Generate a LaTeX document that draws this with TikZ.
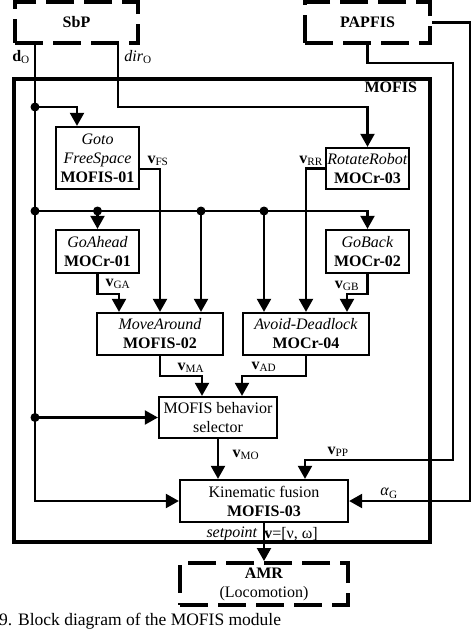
\documentclass[tikz,border=0pt]{standalone}
\usepackage{fontspec}
\setmainfont{Liberation Serif}
\usetikzlibrary{positioning,calc,arrows.meta}

\newcommand{\fs}{\fontsize{16}{19}\selectfont}

\begin{document}
\begin{tikzpicture}[x=1pt,y=1pt,yscale=-1,
  blk/.style={draw, line width=2.3, align=center, inner sep=0pt, font=\fs},
  dblk/.style={draw, line width=4, dash pattern=on 28pt off 10pt, align=center, inner sep=0pt, font=\fs},
  arr/.style={line width=2.2, -{Triangle[length=13pt,width=14pt]}},
  lbl/.style={inner sep=0pt, font=\fs}]

\useasboundingbox (0,0) rectangle (474,630);

% External modules
\node (sbp) [dblk, minimum width=123, minimum height=41] at (76.5,22.5) {\textbf{SbP}};
\node (papfis) [dblk, minimum width=125, minimum height=41] at (367.5,22.5) {\textbf{PAPFIS}};
\node (amr) [dblk, minimum width=168, minimum height=42] at (264,584) {\textbf{AMR}\\(Locomotion)};

% MOFIS frame
\node (mofis) [draw, line width=4.3, inner sep=0pt, minimum width=416, minimum height=463] at (222,310.5) {};
\node (mofislbl) [lbl, anchor=north east] at ($(mofis.north east)+(-15,5)$) {\textbf{MOFIS}};

% Behavior blocks
\node (gfs) [blk, minimum width=83, minimum height=62] at (97.5,158) {\textit{Goto}\\\textit{FreeSpace}\\\textbf{MOFIS-01}};
\node (rr) [blk, minimum width=83, minimum height=41] at (367.5,168.5) {\textit{RotateRobot}\\\textbf{MOCr-03}};
\node (ga) [blk, minimum width=83, minimum height=43] at (97.5,251.5) {\textit{GoAhead}\\\textbf{MOCr-01}};
\node (gb) [blk, minimum width=83, minimum height=43] at (367.5,251.5) {\textit{GoBack}\\\textbf{MOCr-02}};
\node (ma) [blk, minimum width=126, minimum height=42] at (160,334) {\textit{MoveAround}\\\textbf{MOFIS-02}};
\node (ad) [blk, minimum width=126, minimum height=42] at (306,334) {\textit{Avoid-Deadlock}\\\textbf{MOCr-04}};
\node (sel) [blk, minimum width=118, minimum height=41] at (218,417.5) {MOFIS behavior\\selector};
\node (kf) [blk, minimum width=168, minimum height=42] at (264,501) {Kinematic fusion\\\textbf{MOFIS-03}};

% Junctions
\coordinate (j1) at (35,107);
\coordinate (dir) at (118,107);
\coordinate (j2) at (35,211);
\coordinate (b1) at (97.5,211);
\coordinate (b2) at (201,211);
\coordinate (b3) at (264,211);
\coordinate (j3) at (j1 |- sel.west);
\coordinate (pp1) at (453,63);
\coordinate (pp2) at (453,460);
\coordinate (ag) at (470,300);

% Inputs from SbP
\draw [arr] (sbp.south -| j1) |- (kf.west);
\draw [arr] (sbp.south -| dir) -- (dir) -| (rr.north);
\draw [arr] (j1) -| ($(gfs.north)+(-20.5,0)$);
\draw [arr] (j2) -| (gb.north);
\draw [arr] (b1) -- (ga.north);
\draw [arr] (b2) -- (b2 |- ma.north);
\draw [arr] (b3) -- (b3 |- ad.north);
\draw [arr] (j3) -- (sel.west);
\foreach \p in {j1,j2,b1,b2,b3,j3} {
  \fill (\p) circle (4.5);
}

% Block outputs
\draw [arr] ($(gfs.east)+(0,11)$) -| (ma.north);
\draw [arr] (rr.west) -| (ad.north);
\draw [arr] (ga.south) -- ++(0,20) -| ($(ma.north)+(-41,0)$);
\draw [arr] (gb.south) -- ++(0,20) -| ($(ad.north)+(41,0)$);
\draw [arr] (ma.south) -- ++(0,20) -| ($(sel.north)+(-16,0)$);
\draw [arr] (ad.south) -- ++(0,20) -| ($(sel.north)+(24,0)$);
\draw [arr] (sel.south) -- (sel.south |- kf.north);

% Inputs from PAPFIS and output
\draw [arr] (papfis.south) |- (pp1) -- (pp2) -| ($(kf.north)+(41,0)$);
\draw [arr] (papfis.east) -| (ag) |- (kf.east);
\draw [arr] (kf.south) -- (amr.north);

% Signal labels
\node (dOlbl) [lbl] at (21,57) {\textbf{d}\textsubscript{O}};
\node (dirlbl) [lbl] at (138,57) {\textit{dir}\textsubscript{O}};
\node (vfs) [lbl] at (158,161) {\textbf{v}\textsubscript{FS}};
\node (vrr) [lbl] at (311,161) {\textbf{v}\textsubscript{RR}};
\node (vga) [lbl] at (118,284) {\textbf{v}\textsubscript{GA}};
\node (vgb) [lbl] at (347,286) {\textbf{v}\textsubscript{GB}};
\node (vma) [lbl] at (191,368) {\textbf{v}\textsubscript{MA}};
\node (vad) [lbl] at (264,367) {\textbf{v}\textsubscript{AD}};
\node (vmo) [lbl] at (246,455) {\textbf{v}\textsubscript{MO}};
\node (vpp) [lbl] at (338,452) {\textbf{v}\textsubscript{PP}};
\node (alg) [lbl] at (389,493) {\textit{α}\textsubscript{G}};
\node (setp) [lbl] at (232,534) {\textit{setpoint}};
\node (vout) [lbl] at (291,534) {\textbf{v}=[ν, ω]};

% Caption
\node (cap) [lbl, anchor=base west, font=\fontsize{17.5}{20}\selectfont] at (-1,625) {9. Block diagram of the MOFIS module};

\end{tikzpicture}
\end{document}
